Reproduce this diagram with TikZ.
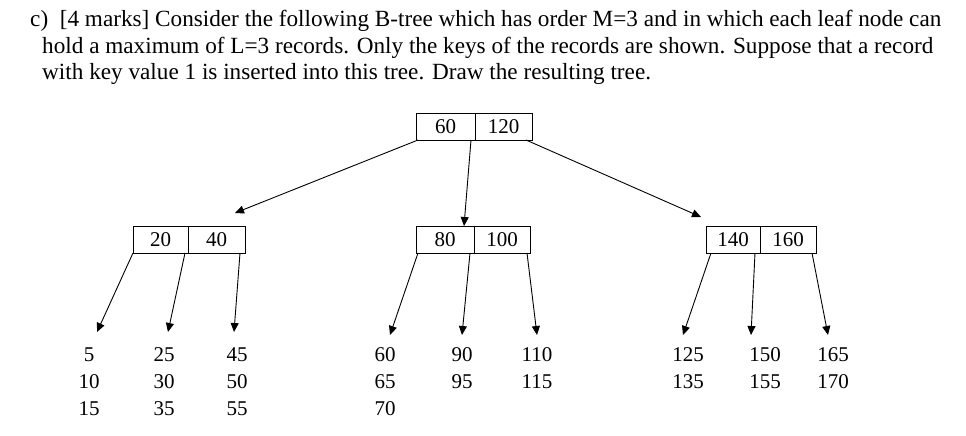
\documentclass[tikz,border=0pt]{standalone}
\usepackage{fontspec}
\setmainfont{Liberation Serif}
\usetikzlibrary{arrows.meta}
\begin{document}
\begin{tikzpicture}[x=1pt,y=-1pt,
  txt/.style={anchor=base west,inner sep=0pt,font=\fontsize{23.2}{26}\selectfont},
  num/.style={anchor=base,inner sep=0pt,font=\fontsize{21}{24}\selectfont},
  cell/.style={draw,line width=0.8pt,minimum height=27pt,inner sep=0pt,font=\fontsize{21}{24}\selectfont},
  arr/.style={line width=0.9pt,-{Triangle[length=9pt,width=8pt]}}]
\useasboundingbox (0,0) rectangle (966,436);
\node[txt] (l1) at (30,27) {c)\enspace[4 marks] Consider the following B-tree which has order M=3 and in which each leaf node can};
\node[txt] (l2) at (42,53) {hold a maximum of L=3 records. Only the keys of the records are shown. Suppose that a record};
\node[txt] (l3) at (42,79) {with key value 1 is inserted into this tree. Draw the resulting tree.};
% top
\node[cell,minimum width=59pt] (t1) at (445.5,126.5) {60};
\node[cell,minimum width=57pt] (t2) at (503.5,126.5) {120};
% middle
\node[cell,minimum width=55pt] (a1) at (160.5,239.5) {20};
\node[cell,minimum width=57pt] (a2) at (216.5,239.5) {40};
\node[cell,minimum width=58pt] (b1) at (445,239.5) {80};
\node[cell,minimum width=56pt] (b2) at (502,239.5) {100};
\node[cell,minimum width=54pt] (c1) at (733,239.5) {140};
\node[cell,minimum width=56pt] (c2) at (788,239.5) {160};
\coordinate (ta) at (235,213);
\coordinate (tb) at (464,226);
\coordinate (tc) at (701,217);
\draw[arr] (418,140) -- (ta);
\draw[arr] (471,140) -- (tb);
\draw[arr] (526,140) -- (tc);
% leaves
\foreach \n/\x/\a/\b/\c in {k1/89/5/10/15,k2/164/25/30/35,k3/237/45/50/55,k4/385/60/65/70,k5/462/90/95/,k6/537/110/115/,k7/688/125/135/,k8/765/150/155/,k9/833/165/170/}{
  \node[num] (\n a) at (\x,361) {\a};
  \node[num] (\n b) at (\x,388) {\b};
  \node[num] (\n c) at (\x,415) {\c};
}
\draw[arr] (133,253) -- (97,332);
\draw[arr] (185,253) -- (168,332);
\draw[arr] (240,253) -- (234,332);
\draw[arr] (418,253) -- (390,335);
\draw[arr] (470,253) -- (462,335);
\draw[arr] (527,253) -- (537,335);
\draw[arr] (711,253) -- (683,335);
\draw[arr] (755,253) -- (751,335);
\draw[arr] (812,253) -- (828,335);
\end{tikzpicture}
\end{document}
